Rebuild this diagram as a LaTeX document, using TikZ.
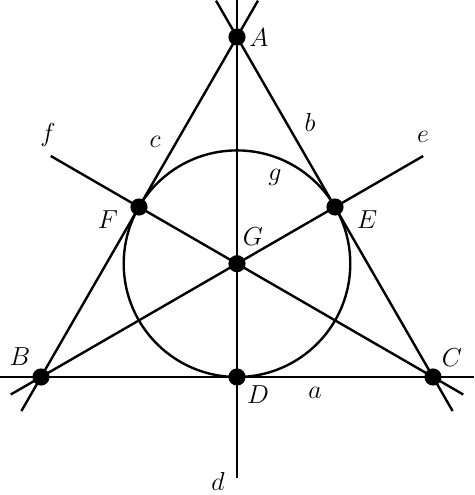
\documentclass[tikz,border=0pt]{standalone}
\usetikzlibrary{calc}
\begin{document}
\begin{tikzpicture}[x=0.554pt,y=-0.554pt,
  ln/.style={line width=1.33pt},
  pt/.style={circle,fill=black,inner sep=0pt,minimum size=9.5pt},
  lab/.style={font=\Large,inner sep=0pt}]
\useasboundingbox (0,0) rectangle (474,495);
% points
\coordinate (A) at (237,37);
\coordinate (B) at (41,377);
\coordinate (C) at (433,377);
\coordinate (D) at (237,377);
\coordinate (E) at (335,207);
\coordinate (F) at (139,207);
\coordinate (G) at (237,263.7);
% free ends
\coordinate (ABt) at ($(A)!-0.107!(B)$);
\coordinate (ABb) at ($(B)!-0.1!(A)$);
\coordinate (ACt) at ($(A)!-0.107!(C)$);
\coordinate (ACb) at ($(C)!-0.1!(A)$);
\coordinate (BEb) at ($(B)!-0.103!(E)$);
\coordinate (BEt) at ($(B)!1.3!(E)$);
\coordinate (CFb) at ($(C)!-0.103!(F)$);
\coordinate (CFt) at ($(C)!1.3!(F)$);
\coordinate (Dt) at (237,0);
\coordinate (Db) at (237,478);
\coordinate (al) at (0,377);
\coordinate (ar) at (474,377);
% lines
\draw[ln] (ABt) -- (A) -- (B) -- (ABb);
\draw[ln] (ACt) -- (A) -- (C) -- (ACb);
\draw[ln] (BEb) -- (B) -- (E) -- (BEt);
\draw[ln] (CFb) -- (C) -- (F) -- (CFt);
\draw[ln] (Dt) -- (A) -- (D) -- (Db);
\draw[ln] (al) -- (B) -- (C) -- (ar);
\draw[ln] (G) circle[radius=113.3];
% dots
\foreach \p in {A,B,C,D,E,F,G} \node[pt] (n\p) at (\p) {};
% labels
\node[lab] (lA) at (259,38) {$A$};
\node[lab] (lB) at (20,357) {$B$};
\node[lab] (lC) at (452,358) {$C$};
\node[lab] (lD) at (258,395) {$D$};
\node[lab] (lE) at (367,220) {$E$};
\node[lab] (lF) at (108,220) {$F$};
\node[lab] (lG) at (253,237) {$G$};
\node[lab] (la) at (315,393) {$a$};
\node[lab] (lb) at (310,122) {$b$};
\node[lab] (lc) at (155,142) {$c$};
\node[lab] (ld) at (218,481) {$d$};
\node[lab] (le) at (423,137) {$e$};
\node[lab] (lf) at (48,135) {$f$};
\node[lab] (lg) at (275,177) {$g$};
\end{tikzpicture}
\end{document}
